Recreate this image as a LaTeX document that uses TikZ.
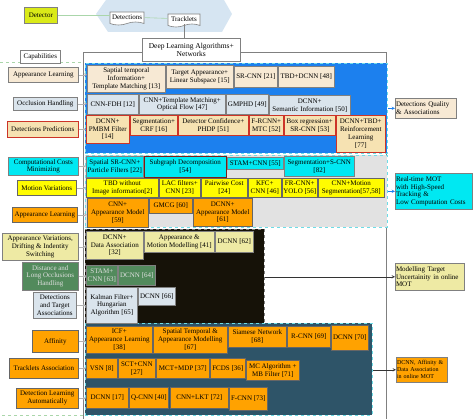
\documentclass[tikz,border=0pt]{standalone}
\usepackage{fontspec}
\setmainfont{Liberation Serif}
\usepackage{tikz}
\usetikzlibrary{shapes,arrows}
\usetikzlibrary{positioning}

\definecolor{detgreen}{RGB}{218,234,24}
\definecolor{cloudblue}{RGB}{214,229,242}
\definecolor{linegreen}{RGB}{170,214,170}
\definecolor{framegray}{RGB}{128,128,128}
\definecolor{blockblue}{RGB}{28,128,238}
\definecolor{blockgray}{RGB}{226,226,226}
\definecolor{blockblack}{RGB}{22,18,8}
\definecolor{blockslate}{RGB}{46,84,104}
\definecolor{dashcyan}{RGB}{110,220,230}
\definecolor{beigefill}{RGB}{247,233,212}
\definecolor{greyblue}{RGB}{218,228,236}
\definecolor{tanfill}{RGB}{246,226,178}
\definecolor{rededge}{RGB}{204,52,40}
\definecolor{cyanfill}{RGB}{0,232,242}
\definecolor{yellowfill}{RGB}{255,252,0}
\definecolor{orangefill}{RGB}{255,162,0}
\definecolor{paleyellow}{RGB}{238,234,164}
\definecolor{darkgreen}{RGB}{82,138,92}

\tikzstyle{arrow} = [->,>=stealth]
\tikzstyle{caparrow} = [arrow, draw=framegray!60, line width=0.4pt]
\tikzstyle{outarrow} = [arrow, line width=0.5pt]
\tikzstyle{cell} = [
    rectangle, anchor=north west, draw=framegray, line width=0.6pt,
    inner sep=0.7pt, align=center, font=\fontsize{7}{7.8}\selectfont]
\tikzstyle{grpbox} = [
    rectangle, anchor=north west, dashed, draw=dashcyan, line width=0.7pt, inner sep=0pt]
\tikzstyle{whitecell} = [cell, fill=white]
\tikzstyle{beigecell} = [cell, fill=beigefill]
\tikzstyle{bluecell} = [cell, fill=greyblue]
\tikzstyle{tancell} = [cell, fill=tanfill, draw=rededge]
\tikzstyle{cyancell} = [cell, fill=cyanfill]
\tikzstyle{yellowcell} = [cell, fill=yellowfill, draw=framegray!80!black]
\tikzstyle{orangecell} = [cell, fill=orangefill, draw=framegray!80!black]
\tikzstyle{palecell} = [cell, fill=paleyellow]
\tikzstyle{greencell} = [cell, fill=darkgreen, text=white!88!black]
\tikzstyle{outcell} = [cell, align=left]
\tikzstyle{flag} = [
    tape, tape bend top=none, tape bend height=3pt, draw=framegray, fill=white,
    line width=0.6pt, inner sep=1pt, font=\fontsize{7}{7.8}\selectfont]

\begin{document}
\begin{tikzpicture}[x=1pt,y=-1pt]
\useasboundingbox (0,0) rectangle (474,419);

% detector and tracklets
\fill [cloudblue] (96,14) -- (106,0) -- (224,0) -- (232,14) -- (222,32) -- (108,32) -- cycle;
\node (detector) [cell, fill=detgreen, minimum width=33pt, minimum height=16pt] at (24,7) {Detector};
\node (detections) [flag, minimum width=34pt, minimum height=13pt] at (127,17) {Detections};
\node (tracklets) [flag, minimum width=32pt, minimum height=13pt] at (184,19) {Tracklets};
\draw [linegreen, line width=0.6pt] (detector.east) -- (detector.east -| detections.west);
\draw [linegreen, line width=0.6pt] (detections) -- (tracklets);

% frame
\draw [dashed, linegreen, line width=0.5pt] (0,62) -- (83,62) (83,415) -- (0,415);
\draw [framegray, line width=0.7pt] (83,419) -- (83,52) -- (386,52) -- (386,419);
\node (deep) [whitecell, minimum width=98pt, minimum height=23pt,
    font=\fontsize{7.5}{8.5}\selectfont] at (142,38) {Deep Learning Algorithms+\\ Networks};
\draw [framegray, line width=0.6pt] (tracklets.south) -- (tracklets.south |- deep.north);

% groups
\node (grp1) [grpbox, fill=blockblue, minimum width=302pt, minimum height=90pt] at (85,63) {};
\node (grp2) [grpbox, fill=blockgray, minimum width=302pt, minimum height=72pt] at (85,155) {};
\node (grp3) [grpbox, fill=blockblack, draw=framegray, minimum width=179pt, minimum height=94pt] at (85,229) {};
\node (grp4) [grpbox, fill=blockslate, minimum width=287pt, minimum height=92pt] at (85,323) {};

% group 1
\node (a1) [beigecell, minimum width=78pt, minimum height=27pt] at (87,65) {Saptial temporal\\ Information+\\ Template Matching [13]};
\node (a2) [beigecell, minimum width=67pt, minimum height=23pt] at (166,65) {Target Appearance+\\ Linear Subspace [15]};
\node (a3) [beigecell, minimum width=43pt, minimum height=21pt] at (234,66) {SR-CNN [21]};
\node (a4) [beigecell, minimum width=56pt, minimum height=21pt] at (278,66) {TBD+DCNN [48]};
\node (b1) [bluecell, minimum width=51pt, minimum height=20pt] at (87,94) {CNN-FDH [12]};
\node (b2) [bluecell, minimum width=86pt, minimum height=20pt] at (139,94) {CNN+Template Matching+\\ Optical Flow [47]};
\node (b3) [bluecell, minimum width=42pt, minimum height=20pt] at (226,94) {GMPHD [49]};
\node (b4) [bluecell, minimum width=81pt, minimum height=20pt] at (269,95) {DCNN+\\ Semantic Information [50]};
\node (c1) [tancell, minimum width=43pt, minimum height=28pt] at (86,115) {DCNN+\\ PMBM Filter\\ {[14]}};
\node (c2) [tancell, minimum width=47pt, minimum height=20pt] at (130,115) {Segmentation+\\ CRF [16]};
\node (c3) [tancell, minimum width=70pt, minimum height=20pt] at (178,115) {Detector Confidence+\\ PHDP [51]};
\node (c4) [tancell, minimum width=34pt, minimum height=20pt] at (249,115) {F-RCNN+\\ MTC [52]};
\node (c5) [tancell, minimum width=51pt, minimum height=20pt] at (284,115) {Box regression+\\ SR-CNN [53]};
\node (c6) [tancell, minimum width=49pt, minimum height=37pt] at (336,115) {DCNN+TBD+\\ Reinforcement\\ Learning\\ {[77]}};

% group 2
\node (d1) [cyancell, minimum width=57pt, minimum height=21pt] at (86,156) {Spatial SR-CNN+\\ Particle Filters [22]};
\node (d2) [cyancell, draw=rededge!60!black, minimum width=82pt, minimum height=21pt] at (144,156) {Subgraph Decomposition\\ {[54]}};
\node (d3) [cyancell, minimum width=56pt, minimum height=12pt] at (227,157) {STAM+CNN [55]};
\node (d4) [cyancell, minimum width=70pt, minimum height=20pt] at (284,156) {Segmentation+S-CNN\\ {[82]}};
\node (e1) [yellowcell, minimum width=72pt, minimum height=19pt] at (86,178) {TBD without\\ Image information[2]};
\node (e2) [yellowcell, minimum width=41pt, minimum height=19pt] at (159,178) {LAC filters+\\ CNN [23]};
\node (e3) [yellowcell, minimum width=46pt, minimum height=19pt] at (201,178) {Pairwise Cost\\ {[24]}};
\node (e4) [yellowcell, minimum width=33pt, minimum height=19pt] at (248,178) {KFC+\\ CNN [46]};
\node (e5) [yellowcell, minimum width=35pt, minimum height=19pt] at (282,178) {FR-CNN+\\ YOLO [56]};
\node (e6) [yellowcell, minimum width=66pt, minimum height=19pt] at (318,178) {CNN+Motion\\ Segmentation[57,58]};
\node (f1) [orangecell, minimum width=61pt, minimum height=29pt] at (87,198) {CNN+\\ Appearance Model\\ {[59]}};
\node (f2) [orangecell, minimum width=43pt, minimum height=15pt] at (149,198) {GMCG [60]};
\node (f3) [orangecell, minimum width=59pt, minimum height=28pt] at (193,198) {DCNN+\\ Appearance Model\\ {[61]}};

% group 3
\node (h1) [palecell, minimum width=57pt, minimum height=28pt] at (86,231) {DCNN+\\ Data Association\\ {[32]}};
\node (h2) [palecell, minimum width=70pt, minimum height=21pt] at (144,231) {Appearance \&\\ Motion Modelling [41]};
\node (h3) [palecell, minimum width=38pt, minimum height=21pt] at (215,231) {DCNN [62]};
\node (i1) [greencell, minimum width=31pt, minimum height=20pt] at (86,265) {STAM+\\ CNN [63]};
\node (i2) [greencell, minimum width=37pt, minimum height=20pt] at (118,265) {DCNN [64]};
\node (j1) [bluecell, minimum width=51pt, minimum height=36pt] at (86,287) {Kalman Filter+\\ Hungarian\\ Algorithm [65]};
\node (j2) [bluecell, minimum width=37pt, minimum height=18pt] at (138,287) {DCNN [66]};

% group 4
\node (k1) [orangecell, minimum width=66pt, minimum height=27pt] at (86,326) {ICF+\\ Appearance Learning\\ {[38]}};
\node (k2) [orangecell, minimum width=74pt, minimum height=27pt] at (153,326) {Spatial Temporal \&\\ Appearance Modelling\\ {[67]}};
\node (k3) [orangecell, minimum width=58pt, minimum height=21pt] at (228,326) {Siamese Network\\ {[68]}};
\node (k4) [orangecell, minimum width=43pt, minimum height=21pt] at (287,326) {R-CNN [69]};
\node (k5) [orangecell, minimum width=37pt, minimum height=25pt] at (331,325) {DCNN [70]};
\node (l1) [orangecell, minimum width=31pt, minimum height=20pt] at (86,358) {VSN [8]};
\node (l2) [orangecell, minimum width=37pt, minimum height=20pt] at (118,358) {SCT+CNN\\ {[27]}};
\node (l3) [orangecell, minimum width=53pt, minimum height=20pt] at (156,358) {MCT+MDP [37]};
\node (l4) [orangecell, minimum width=35pt, minimum height=20pt] at (210,358) {FCDS [36]};
\node (l5) [orangecell, minimum width=53pt, minimum height=20pt] at (246,360) {MC Algorithm +\\ MB Filter [71]};
\node (m1) [orangecell, minimum width=42pt, minimum height=21pt] at (86,387) {DCNN [17]};
\node (m2) [orangecell, minimum width=39pt, minimum height=21pt] at (129,387) {Q-CNN [40]};
\node (m3) [orangecell, minimum width=58pt, minimum height=21pt] at (170,387) {CNN+LKT [72]};
\node (m4) [orangecell, minimum width=38pt, minimum height=23pt] at (229,387) {F-CNN [73]};

% capabilities
\node (cap0) [whitecell, minimum width=40pt, minimum height=13pt] at (20,50) {Capabilities};
\node (cap1) [beigecell, minimum width=70pt, minimum height=15pt] at (8,67) {Appearance Learning};
\node (cap2) [bluecell, minimum width=64pt, minimum height=13pt] at (13,97) {Occlusion Handling};
\node (cap3) [tancell, minimum width=71pt, minimum height=16pt] at (7,121) {Detections Predictions};
\node (cap4) [cyancell, minimum width=70pt, minimum height=18pt] at (8,157) {Computational Costs\\ Minimizing};
\node (cap5) [yellowcell, minimum width=59pt, minimum height=15pt] at (17,180) {Motion Variations};
\node (cap6) [orangecell, minimum width=65pt, minimum height=15pt] at (12,207) {Appearance Learning};
\node (cap7) [palecell, minimum width=76pt, minimum height=27pt] at (2,233) {Appearance Variations,\\ Drifting \& Indentity\\ Switching};
\node (cap8) [greencell, minimum width=56pt, minimum height=28pt] at (22,262) {Distance and\\ Long Occlusions\\ Handling};
\node (cap9) [bluecell, minimum width=43pt, minimum height=26pt] at (33,292) {Detections\\ and Target\\ Associations};
\node (cap10) [orangecell, minimum width=46pt, minimum height=22pt] at (32,330) {Affinity};
\node (cap11) [orangecell, minimum width=69pt, minimum height=20pt] at (9,358) {Tracklets Association};
\node (cap12) [orangecell, minimum width=62pt, minimum height=20pt] at (16,388) {Detection Learning\\ Automatically};

\draw [caparrow] (cap1) -- (cap1 -| a1.west);
\draw [caparrow] (cap2) -- (cap2 -| b1.west);
\draw [caparrow] (cap3) -- (cap3 -| c1.west);
\draw [caparrow] (cap4) -- (cap4 -| d1.west);
\draw [caparrow] (cap5) -- (cap5 -| e1.west);
\draw [caparrow] (cap6) -- (cap6 -| f1.west);
\draw [caparrow] (cap7) -- (cap7 -| h1.west);
\draw [caparrow] (cap8) -- (cap8 -| i1.west);
\draw [caparrow] (cap9) -- (cap9 -| j1.west);
\draw [caparrow] (cap10) -- (cap10 -| k1.west);
\draw [caparrow] (cap11) -- (cap11 -| l1.west);
\draw [caparrow] (cap12) -- (cap12 -| m1.west);

% outcomes
\node (outq) [outcell, fill=beigefill, text width=60pt, minimum height=20pt] at (395,98) {Detections Quality\\ \& Associations};
\node (outr) [outcell, fill=cyanfill, text width=76pt, minimum height=36pt] at (395,173) {Real-time MOT\\ with High-Speed\\ Tracking \&\\ Low Computation Costs};
\node (outm) [outcell, fill=paleyellow, text width=68pt, minimum height=27pt] at (395,263) {Modelling Target\\ Uncertainity in online\\ MOT};
\node (outd) [outcell, fill=orangefill, text width=50pt, minimum height=25pt,
    font=\fontsize{6}{7}\selectfont] at (396,357) {DCNN, Affinity \&\\ Data Association\\ in online MOT};

\draw [outarrow, blockblue] (grp1.east |- outq) -- (outq);
\draw [outarrow, blockblue] (grp2.east |- outr) -- (outr);
\draw [outarrow, black!80] (grp3.east |- outm) -- (outm);
\draw [outarrow, black!80] (grp4.east |- outd) -- (outd);
\end{tikzpicture}
\end{document}
